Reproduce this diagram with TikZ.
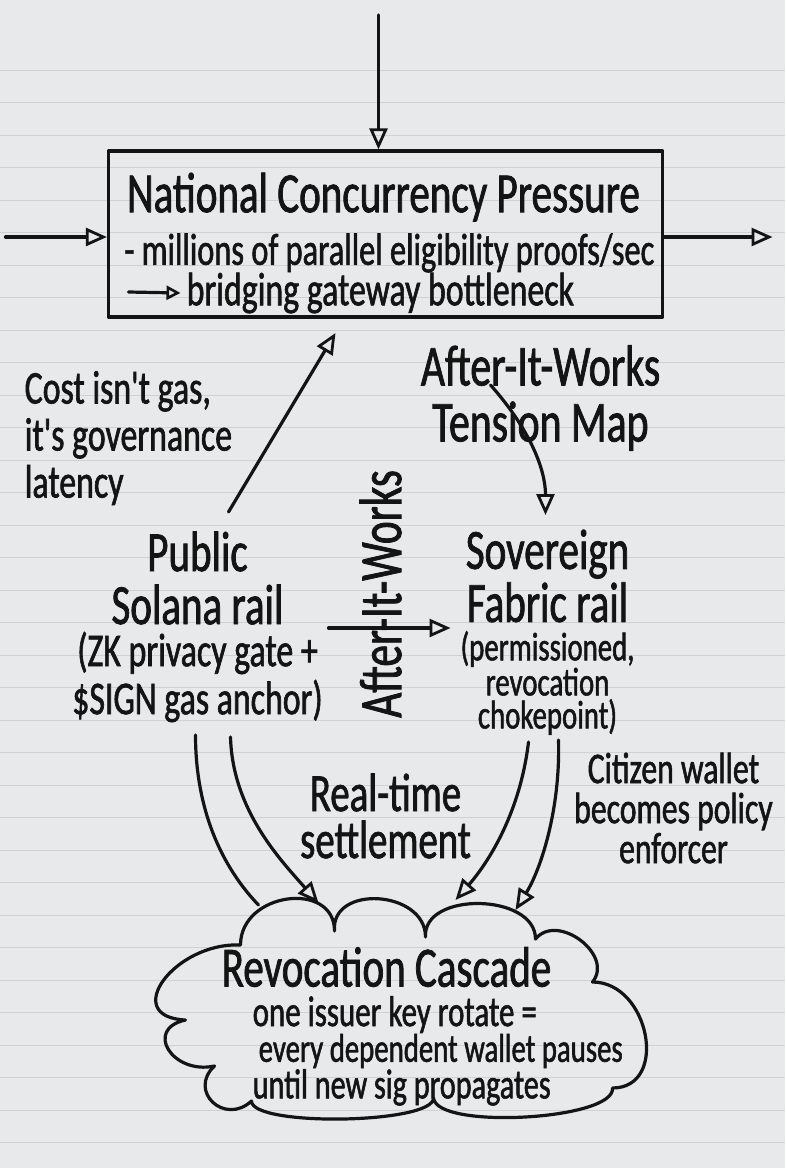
\documentclass[tikz,border=0pt]{standalone}
\usepackage{fontspec}
\newfontfamily\hand[FakeStretch=0.72,FakeBold=1.3]{Carlito}
\usetikzlibrary{arrows.meta}
\definecolor{paper}{HTML}{E8E9EA}
\definecolor{ruling}{HTML}{CFD1D3}
\definecolor{ink}{HTML}{141414}
\begin{document}
\begin{tikzpicture}[x=1pt,y=-1pt,
  inkline/.style={draw=ink, line width=3.2pt, line cap=round, line join=round},
  arr/.style={inkline, -{Triangle[open,length=21pt,width=18pt,line width=2.8pt]}},
  lbl/.style={text=ink, align=center, inner sep=0pt},
]
\fill[paper] (0,0) rectangle (784,1168);
\foreach \k in {0,...,33} \draw[ruling, line width=1pt] (0,{70+32.5*\k}) -- (784,{70+32.5*\k});

% top box
\node[inkline, draw, rectangle, minimum width=554pt, minimum height=166pt, inner sep=0pt] (box) at (385,234) {};
\node[lbl, font=\hand\fontsize{57}{57}\selectfont] (title) at (383,197) {National Concurrency Pressure};
\node[lbl, font=\hand\fontsize{45}{45}\selectfont] (l2) at (389,253) {- millions of parallel eligibility proofs/sec};
\node[lbl, font=\hand\fontsize{47}{47}\selectfont, anchor=west] (l3) at (186,293) {bridging gateway bottleneck};
\coordinate (l3a) at (128,292);
\draw[inkline, -{Triangle[open,length=14pt,width=14pt,line width=2.6pt]}] (l3a) -- ([xshift=-6pt]l3.west);

\coordinate (topstart) at (378,15);
\draw[arr] (topstart) -- (box.north -| topstart);
\coordinate (leftstart) at (5,237);
\draw[arr] (leftstart) -- (box.west |- leftstart);
\coordinate (rightend) at (772,237);
\draw[arr] (box.east |- rightend) -- (rightend);

% labels
\node[lbl, font=\hand\fontsize{47}{47}\selectfont, align=left, anchor=north west] (cost) at (24,371) {Cost isn't gas,\\it's governance\\latency};
\node[lbl, font=\hand\fontsize{58}{56}\selectfont] (tension) at (540,398) {After-It-Works\\Tension Map};

\node[lbl, font=\hand\fontsize{57}{53}\selectfont] (public) at (197,578) {Public\\Solana rail};
\node[lbl, font=\hand\fontsize{47}{48}\selectfont] (publicsub) at (197,677) {(ZK privacy gate +\\\$SIGN gas anchor)};

\node[lbl, font=\hand\fontsize{57}{53}\selectfont] (sov) at (547,576) {Sovereign\\Fabric rail};
\node[lbl, font=\hand\fontsize{40}{33}\selectfont] (sovsub) at (547,683) {(permissioned,\\revocation\\chokepoint)};

\node[lbl, font=\hand\fontsize{60}{60}\selectfont, rotate=90] (vert) at (380,594) {After-It-Works};

\node[lbl, font=\hand\fontsize{54}{47}\selectfont] (rt) at (385,816) {Real-time\\settlement};
\node[lbl, font=\hand\fontsize{44}{40}\selectfont] (cit) at (673,808) {Citizen wallet\\becomes policy\\enforcer};

% cloud
\coordinate (cA) at (240,945);
\coordinate (cB) at (334,931);
\coordinate (cC) at (425,937);
\coordinate (cD) at (535,939);
\coordinate (cE) at (592,982);
\coordinate (cF) at (612,1088);
\coordinate (cG) at (433,1098);
\coordinate (cH) at (251,1101);
\coordinate (cI) at (214,1066);
\coordinate (cJ) at (185,1020);
\draw[inkline] (cA) .. controls (240,892) and (334,880) .. (cB)
  .. controls (330,884) and (425,890) .. (cC)
  .. controls (422,891) and (535,893) .. (cD)
  .. controls (557,912) and (614,955) .. (cE)
  .. controls (649,982) and (669,1088) .. (cF)
  .. controls (615,1120) and (436,1130) .. (cG)
  .. controls (433,1124) and (251,1127) .. (cH)
  .. controls (224,1126) and (187,1091) .. (cI)
  .. controls (172,1075) and (143,1029) .. (cJ)
  .. controls (119,1017) and (174,942) .. (cA) -- cycle;
\node[lbl, font=\hand\fontsize{57}{57}\selectfont] (rc) at (386,967) {Revocation Cascade};
\node[lbl, align=left, anchor=north west] (rcsub) at (252,996) {\hand\fontsize{43}{30}\selectfont one issuer key rotate =\\\hand\fontsize{40}{30}\selectfont\hspace{6pt}every dependent wallet pauses\\\hand\fontsize{42}{30}\selectfont until new sig propagates};

% connectors
\coordinate (p1) at (228,512);
\draw[arr] (p1) -- (335,333);
\coordinate (t1) at (490,385);
\draw[arr] (t1) .. controls (530,430) and (545,470) .. (545,515);
\coordinate (h1) at (328,628);
\draw[arr] (h1) -- (450,628);

\coordinate (a1) at (195,735);
\coordinate (a1e) at (258,905);
\draw[inkline] (a1) .. controls (195,800) and (215,860) .. (a1e);
\coordinate (a2) at (230,737);
\coordinate (a2e) at (318,903);
\draw[arr] (a2) .. controls (232,810) and (280,860) .. (a2e);
\coordinate (b1) at (528,742);
\coordinate (b1e) at (455,900);
\draw[arr] (b1) .. controls (520,810) and (490,860) .. (b1e);
\coordinate (b2) at (558,740);
\coordinate (b2e) at (515,910);
\draw[arr] (b2) .. controls (560,810) and (540,870) .. (b2e);
\end{tikzpicture}
\end{document}
